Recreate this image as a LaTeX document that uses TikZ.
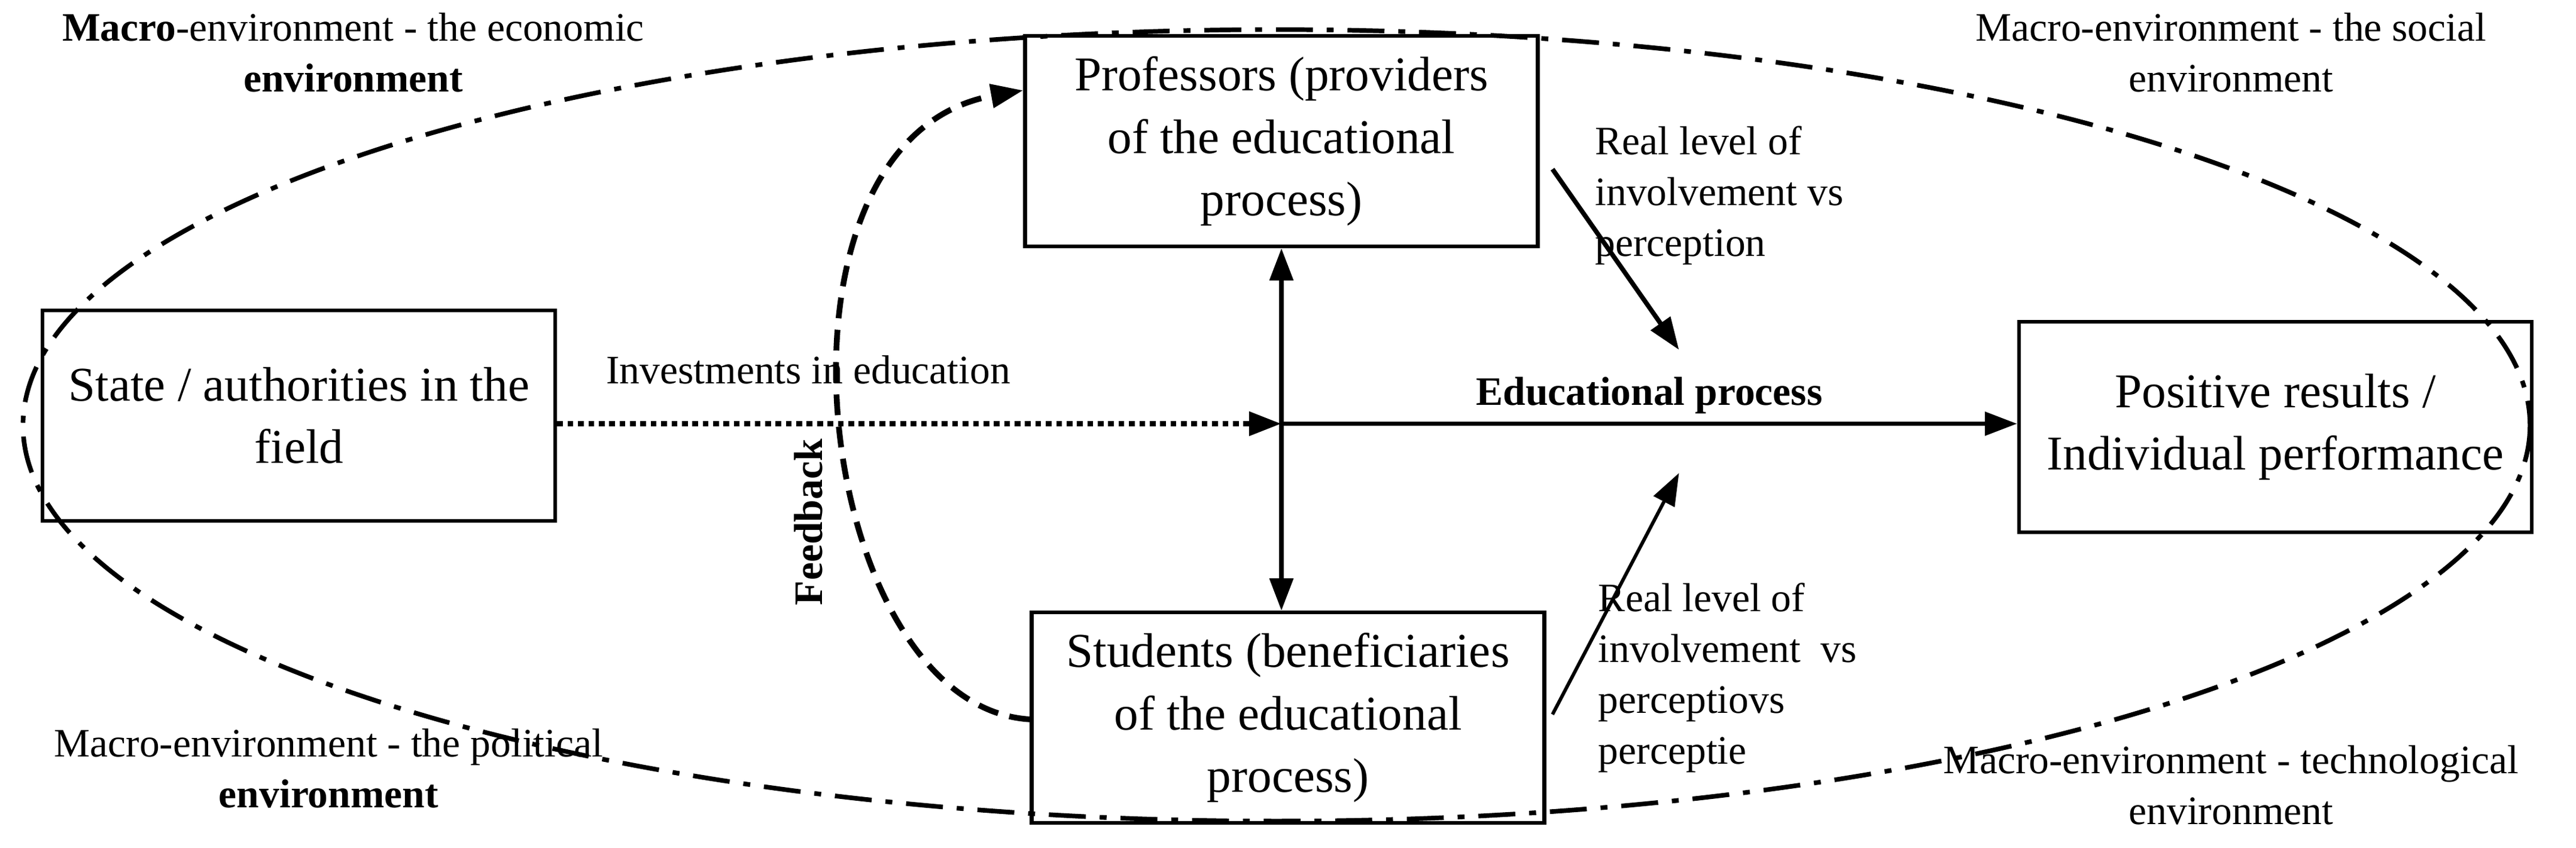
\documentclass[tikz,border=0pt]{standalone}
\usepackage{fontspec}
\setmainfont{Liberation Serif}
\usetikzlibrary{arrows.meta}
\begin{document}
\begin{tikzpicture}[x=0.025cm,y=-0.025cm,
  box/.style={draw,line width=1.6pt,minimum width=7.8cm,minimum height=3.2cm,align=center,font=\fontsize{21}{27}\selectfont},
  lbl/.style={font=\fontsize{17.5}{22}\selectfont,align=center},
  arr/.style={line width=2pt,-{Triangle[length=14pt,width=10pt]}}]
\useasboundingbox (0,0) rectangle (1568,516);
\draw[line width=2pt,dash pattern=on 16pt off 6pt on 3pt off 6pt] (777,259) ellipse [x radius=763,y radius=241];
\node[box] (state) at (182,253) {State / authorities in the\\field};
\node[box] (prof) at (780,86) {Professors (providers\\of the educational\\process)};
\node[box] (stud) at (784,437) {Students (beneficiaries\\of the educational\\process)};
\node[box] (pos) at (1385,260) {Positive results /\\Individual performance};
\coordinate (j) at (780,258);
\coordinate (t1) at (1022,213);
\coordinate (t2) at (1022,288);
\draw[line width=2.5pt,dotted,-{Triangle[length=14pt,width=10pt]}] (state.east |- j) -- (j);
\draw[arr] (j) -- (pos.west |- j) node[midway,above,lbl,font=\fontsize{17.5}{22}\bfseries] {Educational process};
\draw[arr,{Triangle[length=14pt,width=10pt]}-{Triangle[length=14pt,width=10pt]}] (prof.south -| j) -- (stud.north -| j);
\draw[arr] (945,103) -- (t1);
\draw[arr,line width=1.5pt] (945,435) -- (t2);
\node[lbl] (inv) at (492,225) {Investments in education};
\node[lbl,align=left,anchor=north west] (r1) at (966,72) {Real level of\\involvement vs\\perception};
\node[lbl,align=left,anchor=north west] (r2) at (968,350) {Real level of\\involvement~ vs\\perceptiovs\\perceptie};
\draw[line width=2.5pt,dash pattern=on 9pt off 5pt,-{Triangle[length=14pt,width=10pt]}] (stud.west |- 0,438) .. controls (495,430) and (455,85) .. (prof.west |- 0,55);
\node[lbl,rotate=90,font=\fontsize{17.5}{22}\bfseries] (fb) at (492,318) {Feedback};
\node[lbl] (m1) at (215,32) {\textbf{Macro}-environment - the economic\\\textbf{environment}};
\node[lbl] (m2) at (1358,32) {Macro-environment - the social\\environment};
\node[lbl] (m3) at (200,468) {Macro-environment - the political\\\textbf{environment}};
\node[lbl] (m4) at (1358,478) {Macro-environment - technological\\environment};
\end{tikzpicture}
\end{document}
